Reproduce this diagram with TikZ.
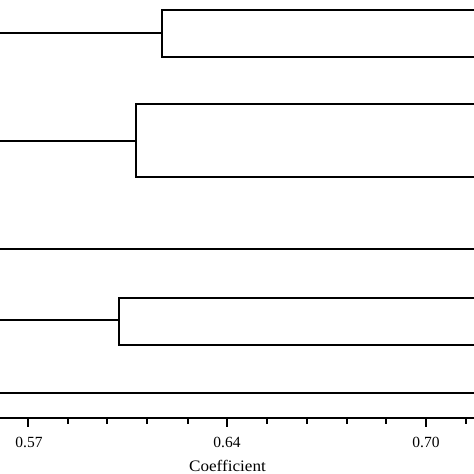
\documentclass[tikz,border=0pt]{standalone}
\usepackage{fontspec}
\setmainfont{Liberation Serif}
\begin{document}
\begin{tikzpicture}[x=1pt,y=-1pt,
  branch/.style={line width=2.2pt,line cap=rect,line join=miter},
  axisline/.style={line width=1.8pt},
  lbl/.style={anchor=base,inner sep=0pt,font=\fontsize{15.5}{18}\selectfont}]
\useasboundingbox (0,0) rectangle (474,474);
% cluster 1
\draw[branch] (-5,33) -- (162,33);
\draw[branch] (474,10) -- (162,10) -- (162,57) -- (474,57);
% cluster 2
\draw[branch] (-5,141) -- (136,141);
\draw[branch] (474,104) -- (136,104) -- (136,177) -- (474,177);
% single
\draw[branch] (-5,249) -- (479,249);
% cluster 3
\draw[branch] (-5,320) -- (119,320);
\draw[branch] (474,298) -- (119,298) -- (119,345) -- (474,345);
% single
\draw[branch] (-5,393) -- (479,393);
% axis
\draw[axisline] (-5,418) -- (479,418);
\foreach \x in {68,107,147,188,267,307,347,386,466}
  \draw[axisline] (\x,418) -- (\x,424);
\foreach \x in {28,227,426}
  \draw[axisline] (\x,418) -- (\x,427);
\node[lbl] (l57) at (29,447) {0.57};
\node[lbl] (l64) at (227,447) {0.64};
\node[lbl] (l70) at (426,447) {0.70};
\node[lbl,font=\fontsize{16}{19}\selectfont,xscale=1.07] (title) at (227.5,471) {Coefficient};
\end{tikzpicture}
\end{document}
